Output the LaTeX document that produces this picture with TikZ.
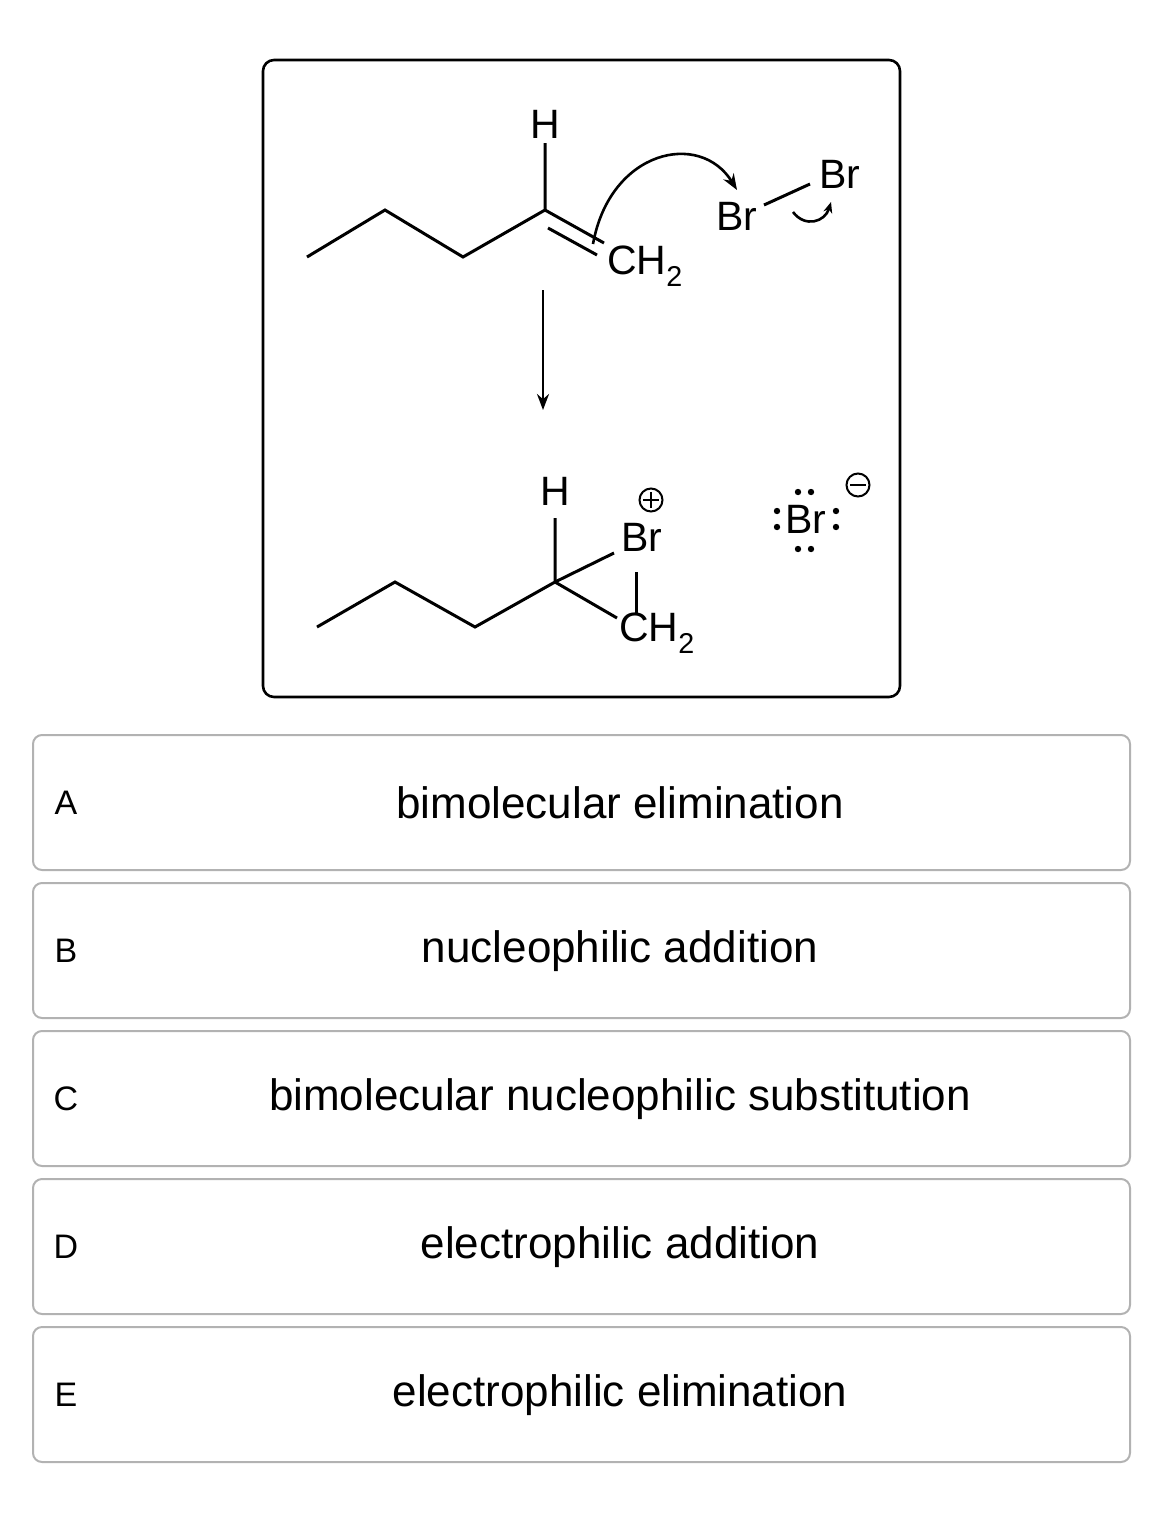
\documentclass[tikz,border=0pt]{standalone}
\usepackage{fontspec}
\setmainfont{Liberation Sans}
\usetikzlibrary{arrows.meta}
\begin{document}
\begin{tikzpicture}[x=1pt,y=-1pt,
  bond/.style={line width=3pt},
  lab/.style={font=\fontsize{41}{41}\selectfont,inner sep=0pt},
  opt/.style={draw=black!30,line width=2pt,rounded corners=9pt},
  opttext/.style={font=\fontsize{44}{44}\selectfont},
  letter/.style={font=\fontsize{34}{34}\selectfont},
  arr/.style={line width=2.6pt,-{Stealth[length=16pt,width=12pt]}}]
\useasboundingbox (0,0) rectangle (1168,1532);
\draw[line width=2.6pt,rounded corners=11pt] (263,60) rectangle (900,697);
% top molecule
\coordinate (a1) at (307,257); \coordinate (a2) at (385,210);
\coordinate (a3) at (463,257); \coordinate (a4) at (545,210);
\coordinate (hb) at (545,143); \node[lab] (h1) at (545,124) {H};
\draw[bond] (a1)--(a2)--(a3)--(a4)--(hb);
\node[lab] (ch2a) at (645,266) {CH\textsubscript{2}};
\coordinate (db1) at (604,243);
\draw[bond] (a4)--(db1);
\draw[bond] (548,228)--(597,255);
\node[lab] (br1) at (737,216) {Br};
\node[lab] (br2) at (840,174) {Br};
\draw[bond] (764,205)--(810,184);
\draw[arr] (593,244) .. controls (610,150) and (700,130) .. (737,190);
\draw[line width=2.6pt,-{Stealth[length=11pt,width=9pt]}] (793,212) .. controls (805,228) and (825,222) .. (831,202);
% reaction arrow
\coordinate (r1) at (543,290); \coordinate (r2) at (543,410);
\draw[arr] (r1)--(r2);
% bottom molecule
\coordinate (b1) at (317,627); \coordinate (b2) at (395,582);
\coordinate (b3) at (475,627); \coordinate (b4) at (555,582);
\node[lab] (h2) at (555,491) {H};
\node[lab] (br3) at (642,537) {Br};
\node[lab] (ch2b) at (657,633) {CH\textsubscript{2}};
\draw[bond] (b1)--(b2)--(b3)--(b4)--(555,518);
\draw[bond] (b4)--(614,553);
\draw[bond] (b4)--(617,618);
\draw[bond] (636,572)--(636,614);
\node[circle,draw,line width=2pt,minimum size=23pt,inner sep=0pt] (plus) at (651,500) {};
\draw[line width=2.2pt] (643,500)--(659,500) (651,492)--(651,508);
% bromide
\node[lab] (br4) at (806,519) {Br};
\foreach \p in {(777,511),(777,527),(836,511),(836,527),(798,492),(811,492),(798,549),(811,549)}
  \fill \p circle (3.2pt);
\node[circle,draw,line width=2pt,minimum size=23pt,inner sep=0pt] (minus) at (858,485) {};
\draw[line width=2.2pt] (850,485)--(866,485);
% options
\foreach \y/\L/\T in {735/A/bimolecular elimination,883/B/nucleophilic addition,1031/C/bimolecular nucleophilic substitution,1179/D/electrophilic addition,1327/E/electrophilic elimination}{
  \draw[opt] (33,\y) rectangle (1130,\y+135);
  \node[letter] (L\L) at (66,\y+68) {\L};
  \node[opttext] (T\L) at (620,\y+68) {\T};
}
\end{tikzpicture}
\end{document}
